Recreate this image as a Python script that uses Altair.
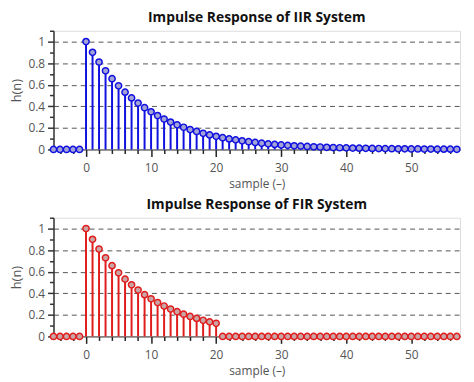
import altair as alt
import pandas as pd

samples = list(range(-5, 58))
iir_values = [0, 0, 0, 0, 0,
              1.000, 0.900, 0.810, 0.729, 0.656, 0.590, 0.531, 0.478, 0.430, 0.387,
              0.349, 0.314, 0.282, 0.254, 0.229, 0.206, 0.185, 0.167, 0.150, 0.135,
              0.122, 0.109, 0.098, 0.089, 0.080, 0.072, 0.065, 0.058, 0.052, 0.047,
              0.042, 0.038, 0.034, 0.031, 0.028, 0.025, 0.023, 0.020, 0.018, 0.016,
              0.015, 0.013, 0.012, 0.011, 0.010, 0.009, 0.008, 0.007, 0.006, 0.006,
              0.005, 0.005, 0.004, 0.004, 0.003, 0.003, 0.003, 0.002]
fir_values = [0, 0, 0, 0, 0,
              1.000, 0.900, 0.810, 0.729, 0.656, 0.590, 0.531, 0.478, 0.430, 0.387,
              0.349, 0.314, 0.282, 0.254, 0.229, 0.206, 0.185, 0.167, 0.150, 0.135,
              0.122] + [0] * 37

x_ticks = list(range(-4, 58, 2))
y_ticks = [0, 0.1, 0.2, 0.3, 0.4, 0.5, 0.6, 0.7, 0.8, 0.9, 1.0, 1.1]

FONT = "Open Sans"
W, H = 411, 120


def panel(values, title, stroke, fill):
    df = pd.DataFrame({"n": samples, "h": values})
    x = alt.X("n:Q", scale=alt.Scale(domain=[-5, 57.5], nice=False, zero=False),
              title="sample (–)",
              axis=alt.Axis(values=x_ticks, labelOverlap=False,
                            labelExpr="datum.value % 10 === 0 ? datum.label : ''",
                            tickSize={"condition": {"test": "datum.value % 10 === 0", "value": 7}, "value": 4},
                            grid=False, domainColor="#333333", tickColor="#222222",
                            tickWidth=1.5, domainWidth=1,
                            labelColor="#555555", labelFontSize=12, labelFont=FONT,
                            titleColor="#555555", titleFontSize=12, titleFont=FONT,
                            titleFontWeight="normal", labelPadding=6, titlePadding=5,
                            labelFlush=False))
    y = alt.Y("h:Q", scale=alt.Scale(domain=[0, 1.1], nice=False),
              title="h(n)",
              axis=alt.Axis(values=y_ticks, format="~g", labelOverlap=False,
                            labelExpr="round(datum.value*10) % 2 === 0 && datum.value < 1.05 ? datum.label : ''",
                            tickSize={"condition": {"test": "round(datum.value*10) % 2 === 0 && datum.value < 1.05", "value": 6}, "value": 4},
                            grid=True, gridDash=[5, 4], gridColor="#555555", gridWidth=1,
                            gridOpacity={"condition": {"test": "round(datum.value*10) % 2 === 0 && datum.value > 0.05 && datum.value < 1.05", "value": 1}, "value": 0},
                            domainColor="#333333", tickColor="#333333", tickWidth=1.5, domainWidth=1.5,
                            labelColor="#555555", labelFontSize=12, labelFont=FONT,
                            titleColor="#555555", titleFontSize=13, titleFont=FONT,
                            titleFontWeight="normal", labelPadding=3, titlePadding=4,
                            labelFlush=False))
    base = alt.Chart(df).encode(x=x, y=y)
    stems = base.mark_rule(color=stroke, strokeWidth=2).encode(y2=alt.Y2(datum=0))
    dots = base.mark_point(shape="circle", filled=True, size=40, fill=fill, stroke=stroke,
                           strokeWidth=1.5, opacity=1)
    return alt.layer(stems, dots).properties(
        width=W, height=H,
        title=alt.Title(title, font=FONT, fontSize=14, fontWeight="bold", color="#111111",
                        anchor="middle", offset=0))


top = panel(iir_values, "Impulse Response of IIR System", "#1010e0", "#a3a3d6")
bottom = panel(fir_values, "Impulse Response of FIR System", "#e01c1c", "#c9a5a5")

chart = alt.vconcat(top, bottom, spacing=7).configure_view(stroke=None).configure(
    padding={"left": 2, "top": 0, "right": 2, "bottom": 0})

chart.save("out.html", embed_options={"renderer": "svg", "actions": False})
